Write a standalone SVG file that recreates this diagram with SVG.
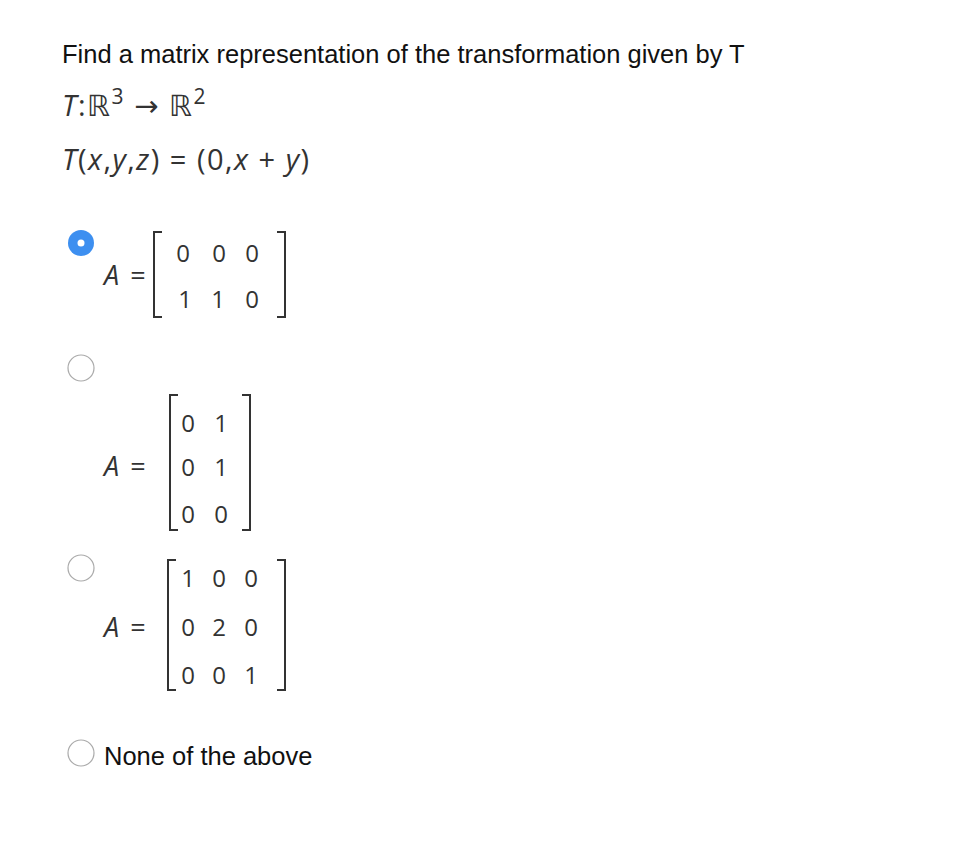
<svg xmlns="http://www.w3.org/2000/svg" width="954" height="846" viewBox="0 0 954 846">
<style>
.t{font-family:"Liberation Sans",Arial,sans-serif;font-size:25.5px;fill:#111}
.m{font-family:"Open Sans","DejaVu Sans",sans-serif;font-size:29px;fill:#333;letter-spacing:1.5px}
.a{font-family:"Open Sans","DejaVu Sans",sans-serif;font-size:27px;fill:#333;letter-spacing:2px}
.i{font-style:italic}
.n{font-family:"Open Sans","DejaVu Sans",sans-serif;font-size:24px;fill:#333;text-anchor:middle}
.b{fill:none;stroke:#333;stroke-width:2}
.r{fill:#fff;stroke:#aaa;stroke-width:1.2}
</style>
<rect width="954" height="846" fill="#fff"/>
<text class="t" x="62" y="63">Find a matrix representation of the transformation given by T</text>
<text class="m" x="62" y="116"><tspan class="i">T</tspan>:ℝ<tspan font-size="21" dy="-12">3</tspan><tspan dy="12"> → ℝ</tspan><tspan font-size="21" dy="-12">2</tspan></text>
<text class="m" x="62" y="170"><tspan class="i">T</tspan>(<tspan class="i">x</tspan>,<tspan class="i">y</tspan>,<tspan class="i">z</tspan>) = (0,<tspan class="i">x</tspan> + <tspan class="i">y</tspan>)</text>
<g id="opt1">
<circle cx="81" cy="243" r="13" fill="#3d8ff0"/><circle cx="81" cy="243" r="3.5" fill="#fff"/>
<text class="a" x="104" y="285"><tspan class="i">A</tspan> =</text>
<path class="b" d="M162,232 H154 V317 H162 M277,232 H285 V317 H277"/>
<text class="n" y="262"><tspan x="183">0</tspan><tspan x="219">0</tspan><tspan x="252">0</tspan></text>
<text class="n" y="308"><tspan x="185">1</tspan><tspan x="218">1</tspan><tspan x="252">0</tspan></text>
</g>
<g id="opt2">
<circle class="r" cx="81" cy="368" r="13"/>
<text class="a" x="104" y="476"><tspan class="i">A</tspan> =</text>
<path class="b" d="M178,395 H170 V530 H178 M242,395 H250 V530 H242"/>
<text class="n" y="432"><tspan x="188">0</tspan><tspan x="221">1</tspan></text>
<text class="n" y="476"><tspan x="188">0</tspan><tspan x="221">1</tspan></text>
<text class="n" y="523"><tspan x="188">0</tspan><tspan x="221">0</tspan></text>
</g>
<g id="opt3">
<circle class="r" cx="81" cy="568" r="13"/>
<text class="a" x="104" y="637"><tspan class="i">A</tspan> =</text>
<path class="b" d="M176,560 H168 V690 H176 M277,560 H285 V690 H277"/>
<text class="n" y="587"><tspan x="188">1</tspan><tspan x="219">0</tspan><tspan x="251">0</tspan></text>
<text class="n" y="636"><tspan x="188">0</tspan><tspan x="219">2</tspan><tspan x="251">0</tspan></text>
<text class="n" y="684"><tspan x="188">0</tspan><tspan x="219">0</tspan><tspan x="251">1</tspan></text>
</g>
<g id="opt4">
<circle class="r" cx="81" cy="753" r="13"/>
<text class="t" x="104" y="765">None of the above</text>
</g>
</svg>
